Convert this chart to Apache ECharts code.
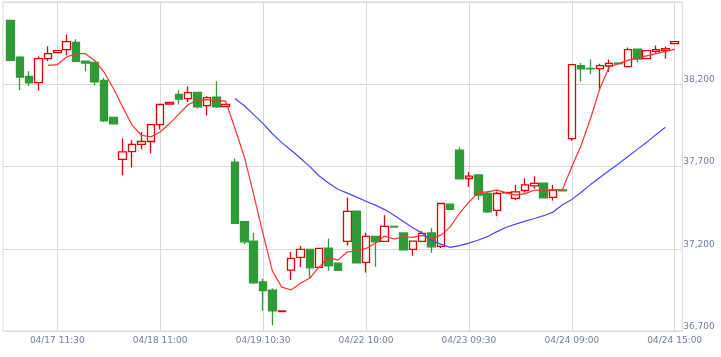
<!DOCTYPE html>
<html><head><meta charset="utf-8">
<script src="https://cdn.jsdelivr.net/npm/echarts@6/dist/echarts.min.js"></script>
<style>html,body{margin:0;padding:0;background:#fff}#c{width:721px;height:357px}</style>
</head><body><div id="c"></div>
<script>
// Trading days and 30-minute session bars
const days = ['04/17','04/18','04/19','04/22','04/23','04/24'];
const sessionTimes = ['09:00','09:30','10:00','10:30','11:00','11:30','12:30','13:00','13:30','14:00','14:30','15:00'];
const categories = [];
days.forEach(d => sessionTimes.forEach(t => categories.push(d + ' ' + t)));

const openVals  = [38588,38364,38248,38210,38356,38392,38410,38455,38341,38333,38224,37999,37743,37791,37834,37852,37955,38080,38139,38113,38151,38070,38121,38064,
                   37726,37364,37246,36998,36949,36818,37070,37148,37196,37087,37204,37113,37245,37429,37117,37275,37245,37336,37296,37196,37245,37296,37214,37471,
                   37799,37627,37649,37536,37433,37540,37506,37554,37582,37599,37512,37558,37870,38313,38296,38295,38311,38329,38307,38414,38356,38400,38406,38447];
const closeVals = [38345,38244,38208,38356,38386,38404,38459,38339,38329,38214,37977,37959,37789,37834,37852,37955,38077,38090,38109,38149,38062,38119,38062,38077,
                   37354,37242,36993,36945,36823,36822,37141,37196,37084,37202,37096,37069,37427,37115,37275,37242,37336,37332,37194,37246,37293,37212,37475,37439,
                   37625,37641,37526,37424,37536,37542,37546,37588,37597,37509,37556,37552,38319,38293,38293,38313,38327,38325,38410,38353,38404,38410,38416,38459];
const lowVals   = [38345,38163,38189,38162,38341,38392,38376,38335,38279,38194,37971,37959,37647,37694,37805,37779,37925,38080,38077,38092,38052,38010,38056,38064,
                   37350,37228,36985,36823,36735,36818,37010,37087,37020,37087,37066,37069,37220,37111,37056,37090,37245,37332,37194,37157,37245,37175,37204,37439,
                   37620,37576,37495,37418,37398,37540,37495,37540,37567,37509,37494,37552,37856,38216,38262,38168,38274,38325,38307,38333,38356,38388,38356,38447];
const highVals  = [38588,38370,38279,38370,38431,38404,38503,38473,38343,38335,38240,37999,37870,37860,37910,37955,38077,38090,38163,38186,38151,38127,38218,38077,
                   37749,37364,37297,37018,36959,36822,37181,37216,37196,37202,37263,37113,37512,37429,37297,37275,37403,37336,37296,37246,37307,37324,37475,37471,
                   37817,37667,37649,37550,37548,37542,37587,37627,37641,37599,37587,37558,38319,38329,38350,38325,38350,38329,38424,38416,38404,38435,38430,38459];

// Moving averages
const ma5 = ['-','-','-','-',38315,38319,38366,38386,38386,38345,38274,38174,38062,37951,37890,37880,37910,37961,38018,38077,38103,38107,38101,38097,
             37931,37758,37529,37290,37064,36967,36949,36990,37022,37090,37148,37131,37180,37188,37202,37233,37277,37259,37273,37269,37281,37259,37283,37333,
             37416,37483,37541,37546,37556,37540,37526,37535,37556,37556,37559,37560,37698,37829,37992,38174,38305,38325,38345,38362,38372,38386,38400,38412];
const ma25 = ['-','-','-','-','-','-','-','-','-','-','-','-','-','-','-','-','-','-','-','-','-','-','-','-',
              38113,38069,38015,37961,37899,37845,37799,37750,37699,37642,37600,37562,37538,37514,37489,37465,37438,37404,37366,37328,37295,37250,37228,
              37208,37219,37234,37253,37274,37304,37331,37350,37368,37384,37401,37423,37468,37500,37544,37590,37633,37676,37717,37761,37804,37848,37893,37939];

const yMin = 36700, yMax = 38700, yStep = 500;
const labelIdx = [5,16,27,38,49,60,71];

const candleData = openVals.map((o, i) => [o, closeVals[i], lowVals[i], highVals[i]]);
const fmt = v => String(v).replace(/\B(?=(\d{3})+(?!\d))/g, ',');
const gridCol = '#d9d9d9';
const txtCol = '#6e7fa0';
const FONT = 'DejaVu Sans';

const chart = echarts.init(document.getElementById('c'), null, {renderer: 'canvas'});
chart.setOption({
  animation: false,
  backgroundColor: '#ffffff',
  grid: [
    {left: 5.8, width: 673.6, top: 2, bottom: 26},
    {left: 3, width: 679.3, top: 2, bottom: 26, show: true, borderColor: gridCol, borderWidth: 1, backgroundColor: 'transparent'}
  ],
  xAxis: [
    {type: 'category', gridIndex: 0, data: categories, boundaryGap: true,
     axisLine: {show: false}, axisTick: {show: false},
     axisLabel: {interval: (i) => labelIdx.indexOf(i) >= 0, color: txtCol, fontFamily: FONT, fontSize: 9, margin: 5},
     splitLine: {show: true, alignWithLabel: true, interval: (i) => labelIdx.indexOf(i) >= 0, lineStyle: {color: gridCol, width: 1}}},
    {type: 'value', gridIndex: 1, min: 0, max: 1, show: false}
  ],
  yAxis: [
    {type: 'value', gridIndex: 0, min: yMin, max: yMax, interval: yStep, show: false},
    {type: 'value', gridIndex: 1, min: yMin, max: yMax, interval: yStep, position: 'right',
     axisLine: {show: false}, axisTick: {show: false},
     axisLabel: {showMaxLabel: false, formatter: fmt, color: txtCol, fontFamily: FONT, fontSize: 9, margin: 1, verticalAlign: 'bottom'},
     splitLine: {show: true, lineStyle: {color: gridCol, width: 1}}}
  ],
  series: [
    {type: 'candlestick', xAxisIndex: 0, yAxisIndex: 0, data: candleData, barWidth: 8,
     itemStyle: {color: '#ffffff', color0: '#2f9a37', borderColor: '#e00000', borderColor0: '#2f9a37', borderWidth: 1.3}},
    {type: 'line', xAxisIndex: 0, yAxisIndex: 0, data: ma5, symbol: 'none', smooth: false,
     lineStyle: {color: '#ff3030', width: 1.2}},
    {type: 'line', xAxisIndex: 0, yAxisIndex: 0, data: ma25, symbol: 'none', smooth: false,
     lineStyle: {color: '#4848ff', width: 1.2}}
  ]
});
</script>
</body></html>
